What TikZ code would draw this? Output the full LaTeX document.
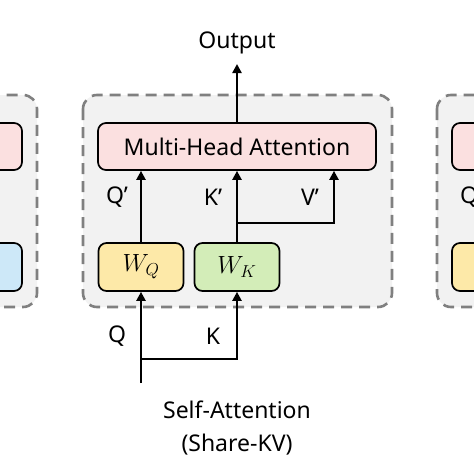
\documentclass[tikz,border=0pt]{standalone}
\usepackage{fontspec}
\setmainfont{Noto Sans}
\usepackage{tikz}
\usetikzlibrary{arrows.meta}
\definecolor{framegray}{HTML}{808080}
\definecolor{framebg}{HTML}{F2F2F2}
\definecolor{attnpink}{HTML}{FBE0E0}
\definecolor{projyellow}{HTML}{FDE9A8}
\definecolor{projgreen}{HTML}{D3EDB8}
\definecolor{projblue}{HTML}{CDE8F8}

\begin{document}
\begin{tikzpicture}[x=1pt, y=-1pt,
    frame/.style={draw=framegray, fill=framebg, line width=2.6pt, dash pattern=on 11pt off 7pt, rounded corners=14pt},
    block/.style={draw=black, line width=1.7pt, rounded corners=8pt, minimum height=47pt, inner sep=0pt},
    arr/.style={line width=2.8pt, -{Triangle[length=9pt,width=9pt]}},
    lbl/.style={font=\fontsize{23}{27}\selectfont, text=black, inner sep=0pt}]
    \useasboundingbox (0,0) rectangle (474,474);
    \clip (0,0) rectangle (474,474);
    % side frames, cut by the page edge
    \draw[frame] (-272,95) rectangle (37,307);
    \draw[block, fill=attnpink] (-200,123) rectangle (22,170);
    \draw[block, fill=projblue] (-200,243) rectangle (22,291);
    \draw[frame] (437,95) rectangle (746,307);
    \draw[block, fill=attnpink] (452,123) rectangle (730,170);
    \draw[block, fill=projyellow] (452,243) rectangle (537,291);
    \node[lbl] at (471,197) {Q’};
    % middle frame
    \draw[frame] (83,95) rectangle (392,307);
    \node[block, fill=attnpink, minimum width=278pt, lbl] (mha) at (237,146.5) {Multi-Head Attention};
    \node[block, fill=projyellow, minimum width=85pt, minimum height=48pt, lbl, font=\fontsize{26}{30}\selectfont] (wq) at (141,267) {$W_Q$};
    \node[block, fill=projgreen, minimum width=85pt, minimum height=48pt, lbl, font=\fontsize{26}{30}\selectfont] (wk) at (237,267) {$W_K$};
    \node[lbl] (out) at (237,43) {Output};
    \node[lbl] (qp) at (117,197) {Q’};
    \node[lbl] (kp) at (213,197) {K’};
    \node[lbl] (vp) at (310,197) {V’};
    \node[lbl] (q) at (117,336) {Q};
    \node[lbl] (k) at (213,336) {K};
    \node[lbl] (title) at (237,410) {Self-Attention};
    \node[lbl] (sub) at (237,445) {(Share-KV)};
    \coordinate (qin) at (141,383);
    \coordinate (kin) at (141,359);
    \coordinate (split) at (237,223);
    \draw[arr] (mha.north) -- (237,64);
    \draw[arr] (wq.north) -- (wq.north |- mha.south);
    \draw[arr] (wk.north) -- (wk.north |- mha.south);
    \draw[arr] (split) -| ([xshift=97pt]mha.south);
    \draw[arr] (qin) -- (wq.south);
    \draw[arr] (kin) -| (wk.south);
\end{tikzpicture}
\end{document}
